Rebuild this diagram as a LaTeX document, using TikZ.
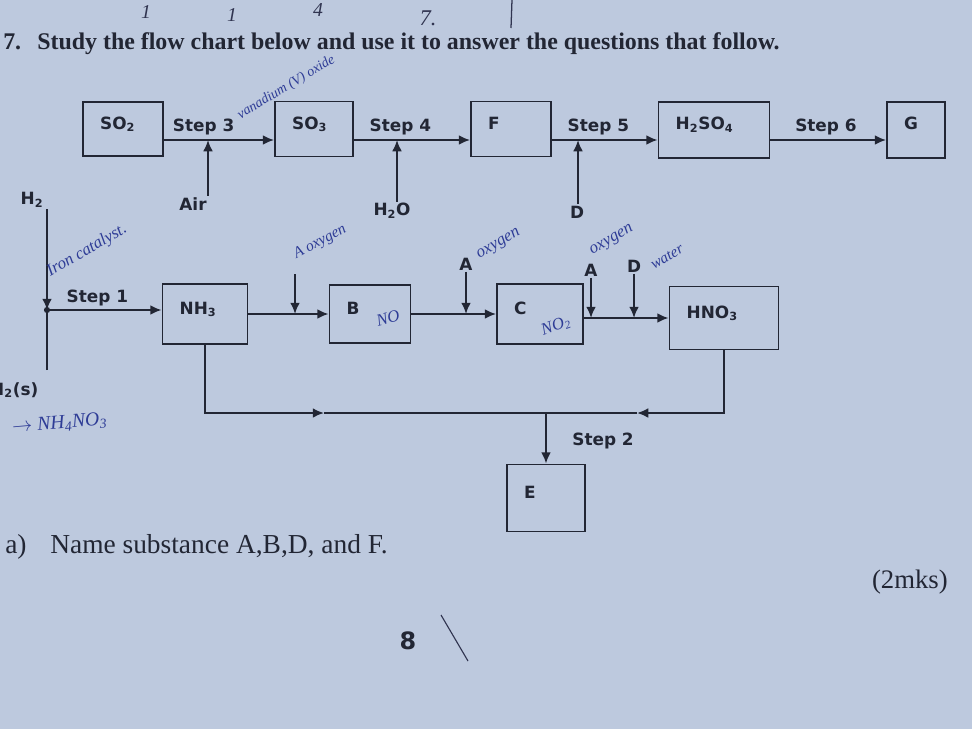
\documentclass[tikz,border=0pt]{standalone}
\usepackage{fontspec}
\setmainfont{Liberation Serif}
\setsansfont{DejaVu Sans}
\usepackage{xcolor}
\usetikzlibrary{arrows.meta}

\definecolor{paper}{RGB}{189,201,222}
\definecolor{ink}{RGB}{34,38,52}
\definecolor{pen}{RGB}{46,60,150}
\definecolor{pencil}{RGB}{48,52,80}

\tikzset{
  stage/.style={draw=ink, line width=1.3pt, text width=#1, inner xsep=0.43cm,
    text height=0.33cm, text depth=0.33cm, align=left, text=ink,
    font=\sffamily\bfseries\fontsize{12}{14}\selectfont},
  flow/.style={draw=ink, line width=1.5pt, -{Latex[length=8pt,width=7pt]}},
  pipe/.style={draw=ink, line width=1.5pt},
  tag/.style={text=ink, inner sep=1pt, font=\sffamily\bfseries\fontsize{12}{14}\selectfont},
  hand/.style={text=pen, inner sep=0pt, font=\itshape\fontsize{11}{12}\selectfont},
}

\begin{document}
\begin{tikzpicture}[x=0.025cm, y=-0.025cm]
  \fill[paper] (0,0) rectangle (972,729);
  \useasboundingbox (0,0) rectangle (972,729);

  % question text
  \node[anchor=base west, inner sep=0, text=ink, font=\bfseries\fontsize{17}{19}\selectfont] (qnum) at (3,50) {7.};
  \node[anchor=base west, inner sep=0, text=ink, font=\bfseries\fontsize{17}{19}\selectfont] (qtext) at (37,50)
    {Study the flow chart below and use it to answer the questions that follow.};

  % top row: sulphur line
  \node[stage=1.14cm, minimum height=1.35cm] (so2) at (123,129) {SO\textsubscript{2}};
  \node[stage=1.09cm, minimum height=1.375cm] (so3) at (314,129) {SO\textsubscript{3}};
  \node[stage=1.14cm, minimum height=1.375cm] (f) at (511,129) {F};
  \node[stage=1.915cm, minimum height=1.4cm] (h2so4) at (714,130) {H\textsubscript{2}SO\textsubscript{4}};
  \node[stage=0.59cm, minimum height=1.4cm] (g) at (916,130) {G};

  \coordinate (air3) at (208,140);
  \coordinate (h2o4) at (397,140);
  \coordinate (d5) at (578,140);
  \draw[flow] (so2.east |- air3) -- node[tag, above=2pt, pos=0.36] {Step 3} (so3.west |- air3);
  \draw[flow] (so3.east |- air3) -- node[tag, above=2pt, pos=0.4] {Step 4} (f.west |- air3);
  \draw[flow] (f.east |- air3) -- node[tag, above=2pt, pos=0.44] {Step 5} (h2so4.west |- air3);
  \draw[flow] (h2so4.east |- air3) -- node[tag, above=2pt, pos=0.48] {Step 6} (g.west |- air3);

  \node[tag] (air) at (193,204) {Air};
  \node[tag] (h2o) at (392,211) {H\textsubscript{2}O};
  \node[tag] (d) at (577,212) {D};
  \draw[flow] (air3 |- air.north) -- (air3);
  \draw[flow] (h2o4 |- h2o.north) -- (h2o4);
  \draw[flow] (d5 |- d.north) -- (d5);

  % middle row: nitrogen line
  \node[stage=1.265cm, minimum height=1.5cm] (nh3) at (205,314) {NH\textsubscript{3}};
  \node[stage=1.165cm, minimum height=1.45cm] (b) at (370,314) {B};
  \node[stage=1.29cm, minimum height=1.5cm] (c) at (540,314) {C};
  \node[stage=1.865cm, minimum height=1.575cm] (hno3) at (724,318) {HNO\textsubscript{3}};
  \node[stage=1.09cm, minimum height=1.675cm] (e) at (546,498) {E};

  \node[tag] (h2) at (32,200) {H\textsubscript{2}};
  \node[tag, anchor=east] (n2) at (40,390) {N\textsubscript{2}(s)};
  \coordinate (mix) at (47,310);
  \coordinate (n2in) at (47,370);
  \draw[flow] (mix |- h2.south) -- (mix);
  \draw[pipe] (n2in) -- (mix);
  \fill[ink] (mix) circle (2.2pt);
  \draw[flow] (mix) -- node[tag, above=1pt, pos=0.44] {Step 1} (nh3.west |- mix);

  \draw[flow] (nh3) -- (b);
  \draw[flow] (b) -- (c);
  \draw[flow] (c.east |- hno3) -- (hno3);

  \coordinate (ox1) at (295,274);
  \node[tag] (a1) at (466,264) {A};
  \node[tag] (a2) at (591,270) {A};
  \node[tag] (d2) at (634,266) {D};
  \draw[flow] (ox1) -- (ox1 |- nh3.east);
  \draw[flow] (a1.south) -- (a1 |- b.east);
  \draw[flow] (a2.south) -- (a2 |- hno3.west);
  \draw[flow] (d2.south) -- (d2 |- hno3.west);

  % return loop to E
  \coordinate (split) at (546,413);
  \coordinate (lmid) at (324,413);
  \coordinate (rmid) at (637,413);
  \draw[flow] (nh3.south) |- (lmid);
  \draw[pipe] (lmid) -- (split);
  \draw[flow] (hno3.south) |- (rmid);
  \draw[pipe] (rmid) -- (split);
  \draw[flow] (split) -- node[tag, right=17pt, pos=0.55] {Step 2} (e);

  % part (a)
  \node[anchor=base west, inner sep=0, text=ink, font=\fontsize{19.5}{21}\selectfont] (qa) at (5,553) {a)};
  \node[anchor=base west, inner sep=0, text=ink, font=\fontsize{19.5}{21}\selectfont] (qname) at (50,553) {Name substance A,B,D, and F.};
  \node[anchor=base east, inner sep=0, text=ink, font=\fontsize{19}{21}\selectfont] (marks) at (948,588) {(2mks)};
  \node[text=ink, font=\sffamily\bfseries\fontsize{17}{19}\selectfont] (page) at (408,641) {8};

  % pen notes
  \node[hand, font=\itshape\fontsize{10}{12}\selectfont, rotate=31, anchor=south west] (vox) at (242,122) {vanadium (V) oxide};
  \node[hand, font=\itshape\fontsize{12}{14}\selectfont, rotate=30, anchor=south west] (cat) at (52,280) {Iron catalyst.};
  \node[hand, rotate=28, anchor=south west] (ox1t) at (298,262) {A oxygen};
  \node[hand, font=\itshape\fontsize{12}{14}\selectfont, rotate=30, anchor=south west] (ox2t) at (481,262) {oxygen};
  \node[hand, font=\itshape\fontsize{12}{14}\selectfont, rotate=30, anchor=south west] (ox3t) at (594,258) {oxygen};
  \node[hand, rotate=30, anchor=south west] (wat) at (654,270) {water};
  \node[hand, font=\itshape\fontsize{12}{14}\selectfont, rotate=15] (bno) at (388,318) {NO};
  \node[hand, font=\itshape\fontsize{12}{14}\selectfont, rotate=20] (cno) at (556,326) {NO\textsubscript{2}};
  \node[hand, font=\itshape\fontsize{14}{16}\selectfont, rotate=5, anchor=west] (salt) at (12,428) {$\rightarrow$ NH\textsubscript{4}NO\textsubscript{3}};
  \node[hand, text=pencil, font=\itshape\fontsize{14}{16}\selectfont] (m1) at (146,12) {1};
  \node[hand, text=pencil, font=\itshape\fontsize{14}{16}\selectfont] (m2) at (232,15) {1};
  \node[hand, text=pencil, font=\itshape\fontsize{14}{16}\selectfont] (m3) at (318,10) {4};
  \node[hand, text=pencil, font=\itshape\fontsize{16}{18}\selectfont] (m4) at (428,18) {7.};
  \draw[pencil, line width=0.9pt] (512,0) -- (511,28);
  \draw[pencil, line width=0.8pt] (441,615) -- (468,661);
\end{tikzpicture}
\end{document}
